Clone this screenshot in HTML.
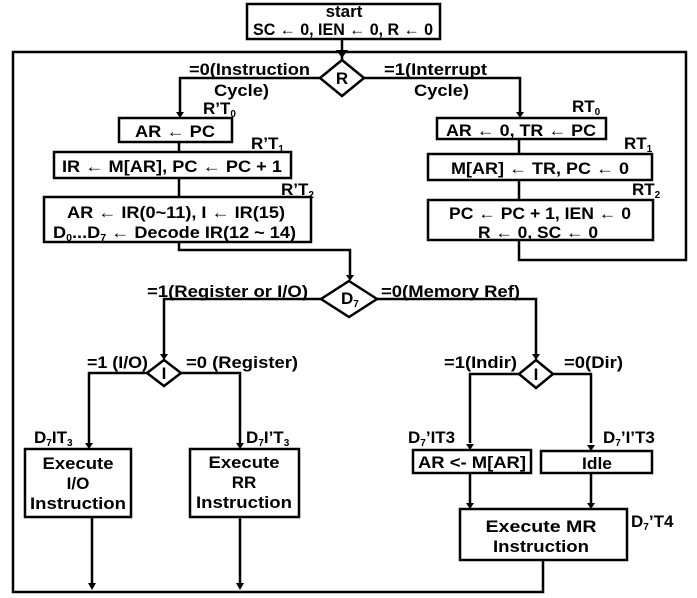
<!DOCTYPE html>
<html><head><meta charset="utf-8"><style>
html,body{margin:0;padding:0;background:#fff;}
svg{display:block;}
text{font-family:"Liberation Sans",Arial,sans-serif;font-weight:bold;font-size:17px;fill:#000;}
.s{font-size:10px;}
</style></head><body>
<svg width="697" height="598" viewBox="0 0 697 598" xmlns="http://www.w3.org/2000/svg">
<g fill="none" stroke="#000" stroke-width="2.5">
<rect x="247" y="4" width="193" height="35"/>
<polyline points="519,240 519,260 686,260 686,52 13,52 13,592 543,592 543,560"/>
<line x1="342" y1="39" x2="342" y2="60"/>
<polygon points="342,60 364,78 342,96 320,78"/>
<polyline points="320,78 180,78 180,112"/>
<polyline points="364,78 520,78 520,112"/>
<rect x="119" y="118" width="113" height="24"/>
<line x1="179" y1="142" x2="179" y2="152"/>
<rect x="54" y="152" width="237" height="26"/>
<line x1="179" y1="178" x2="179" y2="197"/>
<rect x="44" y="197" width="267" height="45"/>
<polyline points="179,242 179,250 350,250 350,276"/>
<rect x="437" y="118" width="169" height="21"/>
<line x1="519" y1="139" x2="519" y2="154"/>
<rect x="428" y="154" width="224" height="26"/>
<line x1="519" y1="180" x2="519" y2="200"/>
<rect x="428" y="200" width="225" height="40"/>
<polygon points="349,281 377,299 349,317 321,299"/>
<polyline points="321,299 164,299 164,356"/>
<polyline points="377,299 536,299 536,356"/>
<polygon points="164,360 181,373 164,386 147,373"/>
<polyline points="147,373 89,373 89,444"/>
<polyline points="181,373 240,373 240,444"/>
<polygon points="536,360 553,374 536,388 519,374"/>
<polyline points="519,374 470,374 470,443"/>
<polyline points="553,374 591,374 591,443"/>
<rect x="25" y="449" width="106" height="68"/>
<rect x="190" y="449" width="109" height="68"/>
<rect x="413" y="450" width="118" height="23"/>
<rect x="541" y="451" width="111" height="22"/>
<line x1="470" y1="473" x2="470" y2="505"/>
<line x1="591" y1="473" x2="591" y2="505"/>
<rect x="460" y="509" width="167" height="51"/>
<line x1="92" y1="517" x2="92" y2="585"/>
<line x1="240" y1="517" x2="240" y2="585"/>
</g>
<g fill="#000">
<path d="M336,50 L348,50 L342,58Z"/>
<path d="M176,112 L184,112 L180,118Z"/>
<path d="M516,112 L524,112 L520,118Z"/>
<path d="M346,275 L354,275 L350,281Z"/>
<path d="M160,354 L168,354 L164,360Z"/>
<path d="M532,354 L540,354 L536,360Z"/>
<path d="M85,443 L93,443 L89,449Z"/>
<path d="M236,443 L244,443 L240,449Z"/>
<path d="M466,444 L474,444 L470,450Z"/>
<path d="M587,445 L595,445 L591,451Z"/>
<path d="M466,503 L474,503 L470,509Z"/>
<path d="M587,503 L595,503 L591,509Z"/>
<path d="M88,583 L96,583 L92,590Z"/>
<path d="M236,583 L244,583 L240,590Z"/>
</g>
<text x="344" y="17" text-anchor="middle" font-size="14">start</text>
<text x="343" y="35" text-anchor="middle" textLength="180" lengthAdjust="spacingAndGlyphs">SC ← 0, IEN ← 0, R ← 0</text>
<text x="342" y="84" text-anchor="middle">R</text>
<text x="189" y="75" textLength="121" lengthAdjust="spacingAndGlyphs">=0(Instruction</text>
<text x="214" y="96" textLength="55" lengthAdjust="spacingAndGlyphs">Cycle)</text>
<text x="384" y="75" textLength="103" lengthAdjust="spacingAndGlyphs">=1(Interrupt</text>
<text x="414" y="96" textLength="55" lengthAdjust="spacingAndGlyphs">Cycle)</text>
<text x="203" y="114">R’T<tspan class="s" dy="3">0</tspan></text>
<text x="251" y="149">R’T<tspan class="s" dy="3">1</tspan></text>
<text x="281" y="195">R’T<tspan class="s" dy="3">2</tspan></text>
<text x="572" y="112">RT<tspan class="s" dy="3">0</tspan></text>
<text x="624" y="149">RT<tspan class="s" dy="3">1</tspan></text>
<text x="632" y="195">RT<tspan class="s" dy="3">2</tspan></text>
<text x="175" y="137" text-anchor="middle" textLength="80" lengthAdjust="spacingAndGlyphs">AR ← PC</text>
<text x="172" y="172" text-anchor="middle" textLength="220" lengthAdjust="spacingAndGlyphs">IR ← M[AR], PC ← PC + 1</text>
<text x="176" y="218" text-anchor="middle" textLength="218" lengthAdjust="spacingAndGlyphs">AR ← IR(0~11), I ← IR(15)</text>
<text x="53" y="238" textLength="243" lengthAdjust="spacingAndGlyphs">D<tspan class="s" dy="3">0</tspan><tspan dy="-3">...D</tspan><tspan class="s" dy="3">7</tspan><tspan dy="-3"> ← Decode IR(12 ~ 14)</tspan></text>
<text x="521" y="136" text-anchor="middle" textLength="150" lengthAdjust="spacingAndGlyphs">AR ← 0, TR ← PC</text>
<text x="540" y="174" text-anchor="middle" textLength="178" lengthAdjust="spacingAndGlyphs">M[AR] ← TR, PC ← 0</text>
<text x="540" y="219" text-anchor="middle" textLength="182" lengthAdjust="spacingAndGlyphs">PC ← PC + 1, IEN ← 0</text>
<text x="538" y="238" text-anchor="middle" textLength="120" lengthAdjust="spacingAndGlyphs">R ← 0, SC ← 0</text>
<text x="341" y="304">D<tspan class="s" dy="3">7</tspan></text>
<text x="147" y="297" textLength="161" lengthAdjust="spacingAndGlyphs">=1(Register or I/O)</text>
<text x="381" y="297" textLength="139" lengthAdjust="spacingAndGlyphs">=0(Memory Ref)</text>
<text x="164" y="379" text-anchor="middle">I</text>
<text x="536" y="380" text-anchor="middle">I</text>
<text x="87" y="368" textLength="61" lengthAdjust="spacingAndGlyphs">=1 (I/O)</text>
<text x="186" y="368" textLength="112" lengthAdjust="spacingAndGlyphs">=0 (Register)</text>
<text x="444" y="368" textLength="73" lengthAdjust="spacingAndGlyphs">=1(Indir)</text>
<text x="564" y="368" textLength="59" lengthAdjust="spacingAndGlyphs">=0(Dir)</text>
<text x="34" y="443">D<tspan class="s" dy="3">7</tspan><tspan dy="-3">IT</tspan><tspan class="s" dy="3">3</tspan></text>
<text x="246" y="443">D<tspan class="s" dy="3">7</tspan><tspan dy="-3">I’T</tspan><tspan class="s" dy="3">3</tspan></text>
<text x="408" y="443">D<tspan class="s" dy="3">7</tspan><tspan dy="-3">’IT3</tspan></text>
<text x="603" y="443">D<tspan class="s" dy="3">7</tspan><tspan dy="-3">’I’T3</tspan></text>
<text x="631" y="527">D<tspan class="s" dy="3">7</tspan><tspan dy="-3">’T4</tspan></text>
<text x="78" y="469" text-anchor="middle" textLength="71" lengthAdjust="spacingAndGlyphs">Execute</text>
<text x="78" y="489" text-anchor="middle">I/O</text>
<text x="78" y="509" text-anchor="middle" textLength="96" lengthAdjust="spacingAndGlyphs">Instruction</text>
<text x="244" y="468" text-anchor="middle" textLength="71" lengthAdjust="spacingAndGlyphs">Execute</text>
<text x="244" y="488" text-anchor="middle">RR</text>
<text x="244" y="508" text-anchor="middle" textLength="96" lengthAdjust="spacingAndGlyphs">Instruction</text>
<text x="472" y="468" text-anchor="middle" textLength="108" lengthAdjust="spacingAndGlyphs">AR &lt;- M[AR]</text>
<text x="597" y="469" text-anchor="middle" textLength="30" lengthAdjust="spacingAndGlyphs">Idle</text>
<text x="541" y="532" text-anchor="middle" textLength="111" lengthAdjust="spacingAndGlyphs">Execute  MR</text>
<text x="541" y="552" text-anchor="middle" textLength="96" lengthAdjust="spacingAndGlyphs">Instruction</text>
</svg>
</body></html>
